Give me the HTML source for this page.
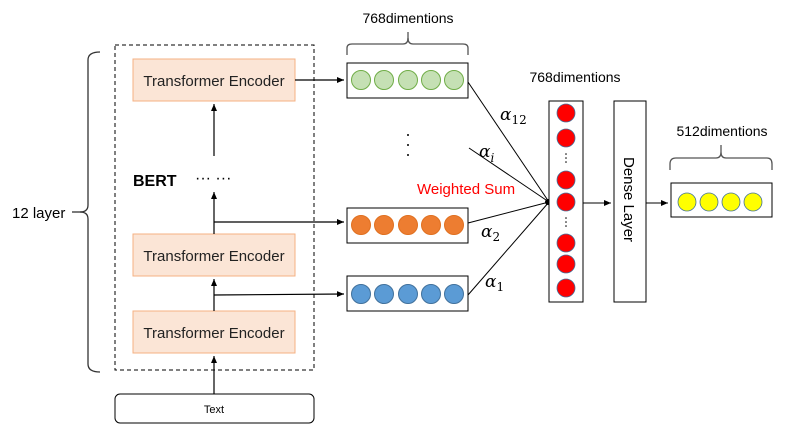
<!DOCTYPE html>
<html><head><meta charset="utf-8"><style>
body{margin:0;background:#fff;}
svg{display:block;font-family:"Liberation Sans",sans-serif;}
</style></head><body>
<svg width="795" height="436" viewBox="0 0 795 436" xmlns="http://www.w3.org/2000/svg">
<defs><marker id="a" markerWidth="8" markerHeight="8" refX="7" refY="4" orient="auto" markerUnits="userSpaceOnUse"><path d="M0,1 L7,4 L0,7 z" fill="#000"/></marker></defs>
<!-- left brace -->
<path d="M100,52 Q88,52 88,60 L88,205 Q88,212 80,212 Q88,212 88,219 L88,364 Q88,372 100,372" fill="none" stroke="#333" stroke-width="1.3"/>
<line x1="72" y1="212" x2="82" y2="212" stroke="#333" stroke-width="1.3"/>
<text x="12" y="218" font-size="15" fill="#000">12 layer</text>
<rect x="115" y="45" width="199" height="325" fill="none" stroke="#000" stroke-dasharray="4,3" stroke-width="1"/>
<g fill="#fbe5d6" stroke="#f4b183" stroke-width="1">
<rect x="133" y="59" width="162" height="42"/><rect x="133" y="234" width="162" height="42"/><rect x="133" y="311" width="162" height="42"/></g>
<g font-size="15" fill="#222" text-anchor="middle"><text x="214" y="86">Transformer Encoder</text><text x="214" y="261">Transformer Encoder</text><text x="214" y="338">Transformer Encoder</text></g>
<text x="133" y="186" font-size="16" font-weight="bold">BERT</text>
<text x="195" y="183" font-size="16">··· ···</text>
<g stroke="#000" stroke-width="1.2" fill="none">
<line x1="214" y1="156" x2="214" y2="104" marker-end="url(#a)"/>
<line x1="214" y1="234" x2="214" y2="192" marker-end="url(#a)"/>
<line x1="214" y1="311" x2="214" y2="279" marker-end="url(#a)"/>
<line x1="214" y1="394" x2="214" y2="356" marker-end="url(#a)"/>
<line x1="295" y1="80" x2="344" y2="80" marker-end="url(#a)"/>
<line x1="214" y1="222" x2="344" y2="222" marker-end="url(#a)"/>
<line x1="214" y1="295" x2="344" y2="294" marker-end="url(#a)"/>
</g>
<rect x="115" y="394" width="199" height="29" rx="5" fill="#fff" stroke="#000"/>
<text x="214" y="413" font-size="11" text-anchor="middle">Text</text>
<!-- top brace -->
<path d="M347,55 L347,48 Q347,44 352,44 L403,44 Q408,44 408,38 Q408,44 413,44 L463,44 Q468,44 468,48 L468,55" fill="none" stroke="#555" stroke-width="1.3"/>
<line x1="408" y1="32" x2="408" y2="40" stroke="#555" stroke-width="1.3"/>
<text x="408" y="23" font-size="14" text-anchor="middle">768dimentions</text>
<g stroke="#000" fill="#fff"><rect x="347" y="63" width="121" height="35"/><rect x="347" y="208" width="121" height="35"/><rect x="347" y="276" width="121" height="35"/></g>
<g stroke="#70ad47" fill="#c5e0b4"><circle cx="361" cy="80" r="9.5"/><circle cx="384" cy="80" r="9.5"/><circle cx="408" cy="80" r="9.5"/><circle cx="431" cy="80" r="9.5"/><circle cx="454" cy="80" r="9.5"/></g>
<g stroke="#e07020" fill="#ed7d31"><circle cx="361" cy="225" r="9.5"/><circle cx="384" cy="225" r="9.5"/><circle cx="408" cy="225" r="9.5"/><circle cx="431" cy="225" r="9.5"/><circle cx="454" cy="225" r="9.5"/></g>
<g stroke="#41719c" fill="#5b9bd5"><circle cx="361" cy="294" r="9.5"/><circle cx="384" cy="294" r="9.5"/><circle cx="408" cy="294" r="9.5"/><circle cx="431" cy="294" r="9.5"/><circle cx="454" cy="294" r="9.5"/></g>
<g fill="#000"><circle cx="408" cy="135" r="1"/><circle cx="408" cy="145" r="1"/><circle cx="408" cy="155" r="1"/></g>
<g stroke="#000" stroke-width="1" fill="none">
<line x1="468" y1="82" x2="549" y2="202"/>
<line x1="469" y1="148" x2="549" y2="202"/>
<line x1="468" y1="223" x2="549" y2="202"/>
<line x1="468" y1="295" x2="549" y2="202"/>
</g>
<circle cx="548" cy="202" r="3" fill="#000"/>
<g font-family="'DejaVu Serif',serif" font-style="italic" font-size="17">
<text x="500" y="120">α<tspan font-size="12" dy="4" font-style="normal">12</tspan></text>
<text x="479" y="157">α<tspan font-size="12" dy="5">i</tspan></text>
<text x="481" y="237">α<tspan font-size="12" dy="4" font-style="normal">2</tspan></text>
<text x="485" y="287">α<tspan font-size="12" dy="4" font-style="normal">1</tspan></text>
</g>
<text x="417" y="194" font-size="15" fill="#ff0000">Weighted Sum</text>
<text x="575" y="82" font-size="14" text-anchor="middle">768dimentions</text>
<rect x="549" y="101" width="34" height="201" fill="#fff" stroke="#000"/>
<g fill="#ff0000" stroke="#41719c" stroke-width="0.8"><circle cx="566" cy="113" r="9"/><circle cx="566" cy="138" r="9"/><circle cx="566" cy="180" r="9"/><circle cx="566" cy="202" r="9"/><circle cx="566" cy="243" r="9"/><circle cx="566" cy="264" r="9"/><circle cx="566" cy="288" r="9"/></g>
<g fill="#000"><circle cx="566" cy="154" r="0.8"/><circle cx="566" cy="158" r="0.8"/><circle cx="566" cy="162" r="0.8"/><circle cx="566" cy="218" r="0.8"/><circle cx="566" cy="222" r="0.8"/><circle cx="566" cy="226" r="0.8"/></g>
<line x1="583" y1="203" x2="611" y2="203" stroke="#000" marker-end="url(#a)"/>
<rect x="614" y="101" width="32" height="201" fill="#fff" stroke="#000"/>
<text x="0" y="0" font-size="15" transform="translate(624,157) rotate(90)">Dense  Layer</text>
<line x1="646" y1="203" x2="668" y2="203" stroke="#000" marker-end="url(#a)"/>
<path d="M670,170 L670,164 Q670,158 676,158 L716,158 Q721,158 721,152 Q721,158 726,158 L767,158 Q772,158 772,164 L772,170" fill="none" stroke="#555" stroke-width="1.3"/>
<line x1="721" y1="145" x2="721" y2="152" stroke="#555" stroke-width="1.3"/>
<text x="722" y="136" font-size="14" text-anchor="middle">512dimentions</text>
<rect x="671" y="183" width="101" height="34" fill="#fff" stroke="#000"/>
<g fill="#ffff00" stroke="#41719c" stroke-width="0.8"><circle cx="687" cy="202" r="9"/><circle cx="709" cy="202" r="9"/><circle cx="731" cy="202" r="9"/><circle cx="753" cy="202" r="9"/></g>
</svg>
</body></html>
